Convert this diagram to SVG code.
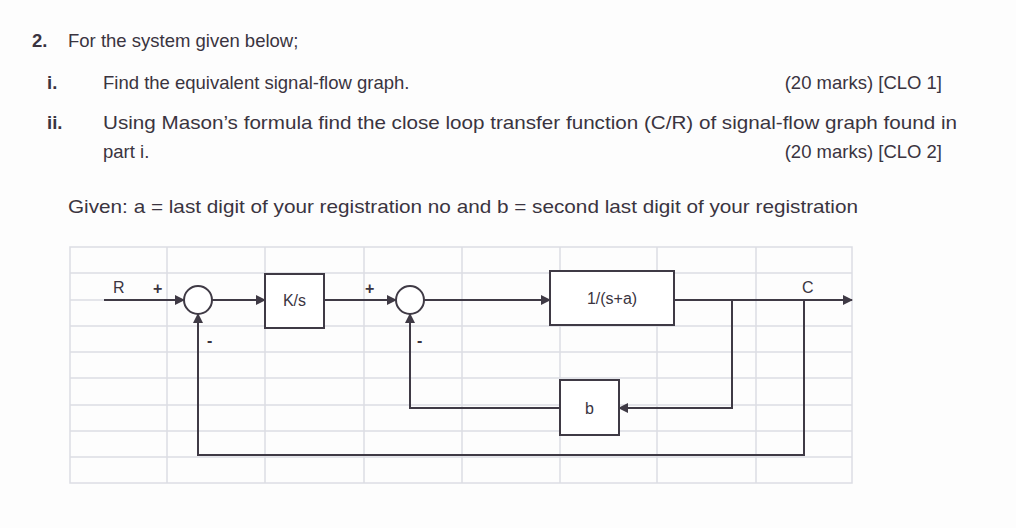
<svg xmlns="http://www.w3.org/2000/svg" width="1016" height="528" viewBox="0 0 1016 528">
<style>
.t{font-family:"Liberation Sans",Arial,sans-serif;font-size:18.5px;fill:#3a3440}
.b{font-weight:bold}
.d{font-family:"Liberation Sans",Arial,sans-serif;font-size:16px;fill:#3a3440}
.g{stroke:#dcdde4;stroke-width:1.5;fill:none}
.w{stroke:#3f3a45;stroke-width:2;fill:none}
.blk{stroke:#3f3a45;stroke-width:2;fill:#fff}
</style>
<defs><marker id="a" markerWidth="10" markerHeight="10" refX="9" refY="5" orient="auto" markerUnits="userSpaceOnUse"><path d="M0,0 L10,5 L0,10 z" fill="#3f3a45"/></marker></defs>
<rect width="1016" height="528" fill="#fdfdfd"/>
<g id="text">
<text class="t b" x="32" y="47">2.</text>
<text class="t" x="68" y="47">For the system given below;</text>
<text class="t b" x="47" y="89">i.</text>
<text class="t" x="103" y="89">Find the equivalent signal-flow graph.</text>
<text class="t" x="942" y="89" text-anchor="end">(20 marks) [CLO 1]</text>
<text class="t b" x="47" y="129">ii.</text>
<text class="t" x="103" y="129" textLength="854" lengthAdjust="spacingAndGlyphs">Using Mason’s formula find the close loop transfer function (C/R) of signal-flow graph found in</text>
<text class="t" x="103" y="158">part i.</text>
<text class="t" x="942" y="158" text-anchor="end">(20 marks) [CLO 2]</text>
<text class="t" x="68" y="213" textLength="790" lengthAdjust="spacingAndGlyphs">Given:  a = last digit of your registration no and b = second last digit of your registration</text>
</g>
<g id="grid">
<rect class="g" x="70" y="247" width="782" height="236"/>
<path class="g" d="M167,247V483M265,247V483M364,247V483M462,247V483M560,247V483M657,247V483M756,247V483M70,273H852M70,300H852M70,326H852M70,352H852M70,378H852M70,405H852M70,431H852M70,457H852"/>
</g>
<g id="connectors">
<path class="w" d="M104,300H184" marker-end="url(#a)"/>
<path class="w" d="M212,300H265" marker-end="url(#a)"/>
<path class="w" d="M324,300H396" marker-end="url(#a)"/>
<path class="w" d="M424,300H550" marker-end="url(#a)"/>
<path class="w" d="M674,300H852" marker-end="url(#a)"/>
<path class="w" d="M732,300V408H619" marker-end="url(#a)"/>
<path class="w" d="M560,408H410V314" marker-end="url(#a)"/>
<path class="w" d="M804,300V455H198V314" marker-end="url(#a)"/>
</g>
<g id="sum1"><circle class="blk" cx="198" cy="300" r="14"/></g>
<g id="sum2"><circle class="blk" cx="410" cy="300" r="14"/></g>
<g id="ks"><rect class="blk" x="265" y="274" width="59" height="54"/><text class="d" x="294.5" y="306" text-anchor="middle">K/s</text></g>
<g id="g2"><rect class="blk" x="550" y="271" width="124" height="54"/><text class="d" x="612" y="304" text-anchor="middle">1/(s+a)</text></g>
<g id="bb"><rect class="blk" x="560" y="380" width="59" height="55"/><text class="d" x="589.5" y="414" text-anchor="middle">b</text></g>
<g id="labels">
<text class="d" x="113" y="293">R</text>
<text class="d b" x="153" y="294">+</text>
<text class="d b" x="365" y="294">+</text>
<text class="d b" x="207" y="346">-</text>
<text class="d b" x="417" y="346">-</text>
<text class="d" x="802" y="293">C</text>
</g>
</svg>
